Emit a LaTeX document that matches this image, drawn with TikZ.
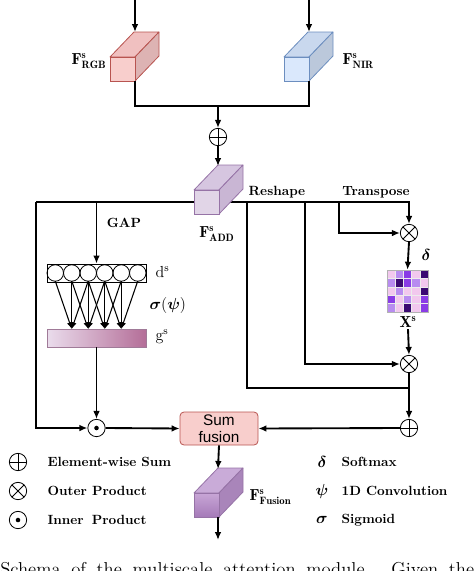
\documentclass[tikz,border=0pt]{standalone}
\usepackage{fontspec}
\usepackage{amsmath,amssymb}
\newfontfamily\sumfont{Liberation Sans}
\usetikzlibrary{arrows.meta,calc}
\definecolor{rgbF}{HTML}{F8CECC}\definecolor{rgbT}{HTML}{F0C0C0}\definecolor{rgbS}{HTML}{DDB3B3}\definecolor{rgbD}{HTML}{B85450}
\definecolor{nirF}{HTML}{DAE8FC}\definecolor{nirT}{HTML}{C9D8EE}\definecolor{nirS}{HTML}{BBC8DB}\definecolor{nirD}{HTML}{6C8EBF}
\definecolor{addF}{HTML}{E1D5E7}\definecolor{addT}{HTML}{D6C6E0}\definecolor{addS}{HTML}{C9B6D4}\definecolor{addD}{HTML}{9673A6}
\definecolor{fusA}{HTML}{C8A6D6}\definecolor{fusB}{HTML}{A57AB8}\definecolor{fusT}{HTML}{C9ABD8}\definecolor{fusS}{HTML}{A985BA}
\definecolor{gsL}{HTML}{EADCEC}\definecolor{gsR}{HTML}{B46E98}\definecolor{gsD}{HTML}{A07A98}
\definecolor{sumF}{HTML}{F8CECC}\definecolor{sumD}{HTML}{B85450}
\definecolor{mA}{HTML}{F2C8EE}\definecolor{mB}{HTML}{B88CF0}\definecolor{mC}{HTML}{8A3CE6}\definecolor{mD}{HTML}{3A0A72}
\newcommand{\drawcube}[6]{%
  \filldraw[draw=#6,fill=#4,line width=0.6pt,line join=round] (#1,#2) -- ({#1+24},{#2-25}) -- ({#1+49},{#2-25}) -- ({#1+25},#2) -- cycle;
  \filldraw[draw=#6,fill=#5,line width=0.6pt,line join=round] ({#1+25},#2) -- ({#1+49},{#2-25}) -- ({#1+49},{#2-1}) -- ({#1+25},{#2+24}) -- cycle;
  \path[draw=#6,line width=0.6pt,#3] (#1,#2) rectangle ({#1+25},{#2+24});
}
\begin{document}
\begin{tikzpicture}[x=0.75pt,y=-0.75pt,
  conn/.style={line width=1.4pt},
  arr/.style={conn,-{Latex[length=6pt,width=5pt]}},
  thinarr/.style={line width=0.8pt,-{Latex[length=5pt,width=4pt]}},
  op/.style={circle,draw,line width=0.6pt,minimum size=13pt,inner sep=0pt,fill=white},
  oplus/.style={op,path picture={\draw[black,line width=0.6pt] (path picture bounding box.north)--(path picture bounding box.south) (path picture bounding box.west)--(path picture bounding box.east);}},
  otimes/.style={op,path picture={\draw[black,line width=0.6pt] (path picture bounding box.north west)--(path picture bounding box.south east) (path picture bounding box.north east)--(path picture bounding box.south west);}},
  odot/.style={op,path picture={\fill[black] (path picture bounding box.center) circle (1.7pt);}},
  lbl/.style={font=\bfseries,inner sep=1pt},
  mlbl/.style={font=\large,inner sep=1pt},
  sumbox/.style={draw=sumD,fill=sumF,rounded corners=3pt,line width=0.6pt,minimum width=58.5pt,minimum height=24.75pt,inner sep=0pt,align=center,font=\sumfont\fontsize{11.5}{12.5}\selectfont},
]
\useasboundingbox (0,0) rectangle (474,571);

% coordinates
\coordinate (inRGB) at (135,0);
\coordinate (inNIR) at (309,0);
\coordinate (rgbTop) at (135,32);
\coordinate (nirTop) at (309,32);
\coordinate (rgbBot) at (135,81);
\coordinate (nirBot) at (309,81);
\coordinate (join) at (218,106);
\coordinate (addTop) at (218,166);
\coordinate (lc1) at (36,202);
\coordinate (rtop) at (409,202);
\coordinate (gapT) at (96.5,202);
\coordinate (r1) at (247,202);
\coordinate (r2) at (305,202);
\coordinate (t1) at (339,202);
\coordinate (j388) at (409,388);
\coordinate (fusTop) at (218,469);
\coordinate (fusBot) at (218,517);
\coordinate (outF) at (218,540);

% operator nodes
\node[oplus] (plus1) at (218,137) {};
\node[otimes] (ot1) at (409,233) {};
\node[otimes] (ot2) at (409,364) {};
\node[oplus] (plus2) at (409,428) {};
\node[odot] (dot1) at (96.5,428) {};
\node[sumbox] (sum) at (219,428.5) {Sum\\fusion};

% d^s and g^s
\node[draw,line width=0.6pt,minimum width=74.25pt,minimum height=13.5pt,inner sep=0pt] (ds) at (96.5,273) {};
\foreach \k in {0,...,5} { \draw[line width=0.6pt] ({55.25+16.5*\k},273) circle (6.19pt); }
\node[draw=gsD,line width=0.6pt,left color=gsL,right color=gsR,minimum width=74.25pt,minimum height=13.5pt,inner sep=0pt] (gs) at (96.5,338) {};

% matrix
\node[minimum width=30.75pt,minimum height=31.5pt,inner sep=0pt] (mat) at (407.5,291) {};
\foreach \c [count=\i from 0] in {mA,mB,mC,mA,mD, mB,mD,mC,mB,mA, mA,mB,mA,mA,mD, mC,mA,mB,mA,mC, mB,mA,mD,mA,mC} {
  \pgfmathtruncatemacro{\cx}{mod(\i,5)}
  \pgfmathtruncatemacro{\cy}{div(\i,5)}
  \fill[\c,draw=white!85!gray,line width=0.4pt] ({387+8.2*\cx},{270+8.4*\cy}) rectangle ({387+8.2*(\cx+1)},{270+8.4*(\cy+1)});
}
\draw[line width=0.4pt,gray!60] (387,270) rectangle (428,312);

% main horizontal line (behind the ADD cube)
\draw[arr] (lc1) -- (rtop) -- (ot1.north);

% cubes
\drawcube{110}{57}{fill=rgbF}{rgbT}{rgbS}{rgbD}
\drawcube{284}{57}{fill=nirF}{nirT}{nirS}{nirD}
\drawcube{194}{190}{fill=addF}{addT}{addS}{addD}
\drawcube{194}{493}{top color=fusA,bottom color=fusB}{fusT}{fusS}{addD}

% connectors
\draw[arr] (inRGB) -- (rgbTop);
\draw[arr] (inNIR) -- (nirTop);
\draw[conn] (rgbBot) |- (join);
\draw[conn] (nirBot) |- (join);
\draw[arr] (join) -- (plus1.north);
\draw[arr] (plus1.south) -- (addTop);
\draw[arr] (gapT) -- (ds.north);
\draw[arr] (t1) |- (ot1.west);
\draw[arr] (r2) |- (ot2.west);
\draw[conn] (r1) |- (j388);
\draw[arr] (ot1.south) -- (mat.north);
\node[mlbl] (Xs) at (408,322) {$\mathbf{X}^{\mathbf{s}}$};
\draw[arr] (Xs.south) -- (ot2.north);
\draw[arr] (ot2.south) -- (plus2.north);
\draw[arr] (plus2.west) -- (sum.east);
\draw[arr] (lc1) |- (dot1.west);
\draw[arr] (gs.south) -- (dot1.north);
\draw[arr] (dot1.east) -- (sum.west);
\draw[arr] (sum.south) -- (fusTop);
\draw[arr] (fusBot) -- (outF);

% convolution arrows
\foreach \j in {1,...,4} {
  \foreach \d in {-1,0,1} {
    \pgfmathsetmacro{\xs}{55.25+16.5*(\j+\d)}
    \pgfmathsetmacro{\xt}{55.25+16.5*\j}
    \draw[thinarr] (\xs,281) -- (\xt,329);
  }
}

% labels
\node[mlbl,anchor=east] (lRGB) at (108,61) {$\mathbf{F}^{\mathbf{s}}_{\mathbf{RGB}}$};
\node[mlbl,anchor=west] (lNIR) at (341,61) {$\mathbf{F}^{\mathbf{s}}_{\mathbf{NIR}}$};
\node[mlbl] (lADD) at (217,234) {$\mathbf{F}^{\mathbf{s}}_{\mathbf{ADD}}$};
\node[mlbl,anchor=west] (lFUS) at (248,497) {$\mathbf{F}^{\mathbf{s}}_{\mathbf{Fusion}}$};
\node[lbl] (lReshape) at (277,192) {Reshape};
\node[lbl] (lTranspose) at (376,192) {Transpose};
\node[lbl] (lGAP) at (124,223) {GAP};
\node[mlbl,anchor=west] (lds) at (154,272) {$\mathrm{d}^{\mathrm{s}}$};
\node[mlbl,anchor=west] (lsig) at (148,305) {$\boldsymbol{\sigma}(\boldsymbol{\psi})$};
\node[mlbl,anchor=west] (lgs) at (154,337) {$\mathrm{g}^{\mathrm{s}}$};
\node[mlbl] (ldelta) at (426,255) {$\boldsymbol{\delta}$};

% legend
\node[oplus] (lg1) at (18,462) {};
\node[otimes] (lg2) at (18,491) {};
\node[odot] (lg3) at (18,520) {};
\node[lbl,anchor=west] (lt1) at (46,462) {Element-wise Sum};
\node[lbl,anchor=west] (lt2) at (46,491) {Outer Product};
\node[lbl,anchor=west] (lt3) at (46,520) {Inner\hspace{0.6em}Product};
\node[mlbl] (ls1) at (322,462) {$\boldsymbol{\delta}$};
\node[mlbl] (ls2) at (322,491) {$\boldsymbol{\psi}$};
\node[mlbl] (ls3) at (322,520) {$\boldsymbol{\sigma}$};
\node[lbl,anchor=west] (lr1) at (340,462) {Softmax};
\node[lbl,anchor=west] (lr2) at (340,491) {1D Convolution};
\node[lbl,anchor=west] (lr3) at (340,520) {Sigmoid};

% caption (cut by the frame)
\begin{scope}
\clip (0,0) rectangle (474,571);
\node[anchor=base west,inner sep=0pt] (cap) at (0,575) {\fontsize{14}{16}\selectfont\makebox[355.5pt][s]{Schema of the multiscale attention module. Given the}};
\end{scope}
\end{tikzpicture}
\end{document}
